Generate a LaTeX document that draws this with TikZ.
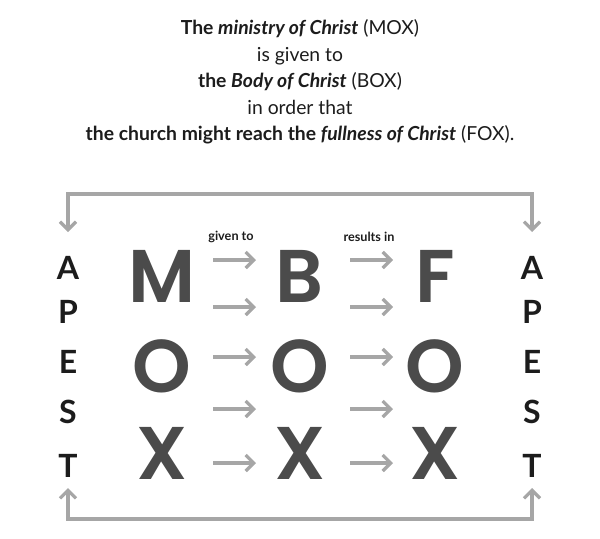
\documentclass[tikz,border=0pt]{standalone}
\usepackage{fontspec}
\setmainfont{Lato}
\newfontfamily\geofont{Poppins SemiBold}
\usetikzlibrary{arrows.meta}

\definecolor{arrowgray}{HTML}{A6A6A6}
\definecolor{lettergray}{HTML}{4B4B4B}
\definecolor{inkblack}{HTML}{1C1C1C}

\tikzset{
  barb/.tip={Straight Barb[length=6pt,width=12pt]},
  flow/.style={draw=arrowgray, line width=2.4pt, -barb},
  frameline/.style={draw=arrowgray, line width=2.4pt, barb-barb},
  bigletter/.style={text=lettergray, font=\geofont\fontsize{56}{56}\selectfont},
  apest/.style={text=inkblack, font=\fontsize{24}{24}\selectfont\bfseries},
  steplabel/.style={text=inkblack, font=\fontsize{9.5}{11}\selectfont\bfseries},
}

\begin{document}
\begin{tikzpicture}[x=0.75pt, y=-0.75pt]
			\useasboundingbox (0,0) rectangle (600,539);

			% title
			\node [text=inkblack, align=center, font=\fontsize{14.5}{19.9}\selectfont] (title) at (300,82)
			  {\textbf{The \textit{ministry of Christ}} (MOX)\\
			   is given to\\
			   \textbf{the \textit{Body of Christ}} (BOX)\\
			   in order that\\
			   \textbf{the church might reach the \textit{fullness of Christ}} (FOX).};

			% APEST columns
			\node [apest] (A1) at (68,268) {A};
			\node [apest] (P1) at (68,312) {P};
			\node [apest] (E1) at (68,362) {E};
			\node [apest] (S1) at (68,412) {S};
			\node [apest] (T1) at (68,466) {T};

			\node [apest] (A2) at (532,268) {A};
			\node [apest] (P2) at (532,312) {P};
			\node [apest] (E2) at (532,362) {E};
			\node [apest] (S2) at (532,412) {S};
			\node [apest] (T2) at (532,466) {T};

			% frame arrows
			\coordinate (topL) at (68,232);
			\coordinate (topR) at (532,232);
			\coordinate (botL) at (68,488);
			\coordinate (botR) at (532,488);
			\draw [frameline] (topL) -- (68,194) -- (532,194) -- (topR);
			\draw [frameline] (botL) -- (68,519) -- (532,519) -- (botR);

			% MOX, BOX, FOX
			\node [bigletter] (M) at (162,276) {M};
			\node [bigletter] (B) at (300,276) {B};
			\node [bigletter] (F) at (435,276) {F};
			\node [bigletter] (O1) at (162,366) {O};
			\node [bigletter] (O2) at (300,366) {O};
			\node [bigletter] (O3) at (435,366) {O};
			\node [bigletter] (X1) at (162,453) {X};
			\node [bigletter] (X2) at (300,453) {X};
			\node [bigletter] (X3) at (435,453) {X};

			\node [steplabel] (given) at (231,237) {given to};
			\node [steplabel] (results) at (369,237) {results in};

			% arrows between the columns
			\foreach \row/\y in {a/260, p/307, e/357, s/409, t/463} {
			  \coordinate (g\row) at (213,\y);
			  \coordinate (b\row) at (256,\y);
			  \coordinate (r\row) at (350,\y);
			  \coordinate (f\row) at (393,\y);
			  \draw [flow] (g\row) -- (b\row);
			  \draw [flow] (r\row) -- (f\row);
			}
		\end{tikzpicture}
\end{document}
